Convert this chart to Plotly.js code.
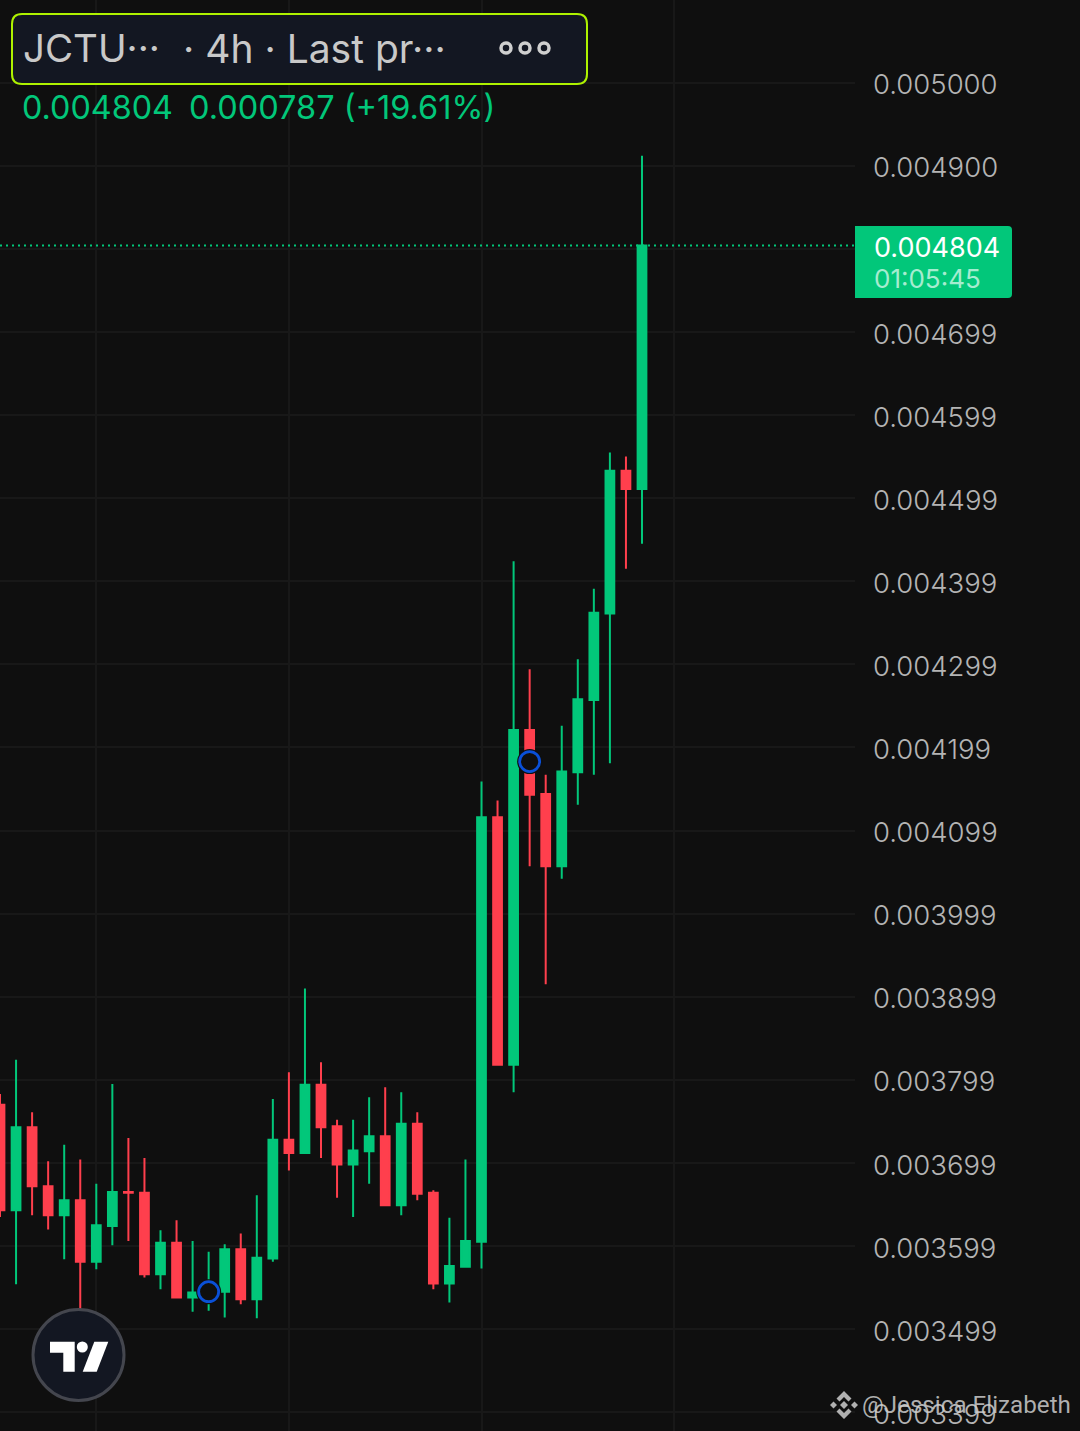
<!DOCTYPE html>
<html>
<head>
<meta charset="utf-8">
<script src="https://cdn.plot.ly/plotly-3.0.1.min.js"></script>
<style>html,body{margin:0;padding:0;background:#0f0f0f}#chart{width:1080px;height:1431px}</style>
</head>
<body>
<div id="chart"></div>
<script>
// ---- data ----
const candleIndex = [0,1,2,3,4,5,6,7,8,9,10,11,12,13,14,15,16,17,18,19,20,21,22,23,24,25,26,27,28,29,30,31,32,33,34,35,36,37,38,39,40];
const openPrices  = [0.003770,0.003643,0.003743,0.003672,0.003637,0.003655,0.003581,0.003624,0.003665,0.003664,0.003566,0.003604,0.003538,0.003542,0.003545,0.003596,0.003536,0.003585,0.003728,0.003712,0.003794,0.003744,0.003698,0.003714,0.003732,0.003649,0.003747,0.003664,0.003555,0.003575,0.003605,0.004116,0.003818,0.004221,0.004144,0.004057,0.004170,0.004257,0.004361,0.004533,0.004511];
const highPrices  = [0.003783,0.003824,0.003761,0.003702,0.003722,0.003704,0.003675,0.003795,0.003730,0.003706,0.003619,0.003631,0.003606,0.003593,0.003602,0.003615,0.003661,0.003777,0.003809,0.003910,0.003821,0.003752,0.003752,0.003779,0.003791,0.003785,0.003761,0.003667,0.003634,0.003704,0.004159,0.004136,0.004424,0.004294,0.004167,0.004226,0.004306,0.004391,0.004555,0.004550,0.004912];
const lowPrices   = [0.003635,0.003554,0.003637,0.003620,0.003584,0.003516,0.003572,0.003601,0.003606,0.003562,0.003548,0.003537,0.003521,0.003522,0.003514,0.003530,0.003513,0.003581,0.003691,0.003712,0.003706,0.003658,0.003635,0.003675,0.003649,0.003637,0.003655,0.003548,0.003532,0.003574,0.003573,0.003818,0.003785,0.004057,0.003915,0.004042,0.004131,0.004167,0.004181,0.004415,0.004445];
const closePrices = [0.003643,0.003743,0.003672,0.003637,0.003655,0.003581,0.003625,0.003665,0.003664,0.003566,0.003604,0.003538,0.003544,0.003549,0.003596,0.003536,0.003586,0.003728,0.003712,0.003794,0.003743,0.003698,0.003715,0.003732,0.003649,0.003747,0.003663,0.003555,0.003576,0.003606,0.004116,0.003818,0.004221,0.004143,0.004057,0.004171,0.004258,0.004362,0.004533,0.004511,0.004804];
const markerIndex  = [13,33];
const markerPrices = [0.003545,0.004183];
const lastPrice = 0.004804;
const priceTicks  = [0.0050,0.0049,0.0048,0.0047,0.0046,0.0045,0.0044,0.0043,0.0042,0.0041,0.0040,0.0039,0.0038,0.0037,0.0036,0.0035,0.0034];
const tickLabels  = ["0.005000","0.004900","","0.004699","0.004599","0.004499","0.004399","0.004299","0.004199","0.004099","0.003999","0.003899","0.003799","0.003699","0.003599","0.003499","0.003399"];
const timeTicks   = [6,18,30,42];

// ---- page geometry and helpers ----
const W = 1080, H = 1431, PLOT_W = 855;
const px = x => x / PLOT_W;
const py = y => 1 - y / H;
const BG = '#0f0f0f', GREEN = '#02c77a', RED = '#ff3f4d', GRID = '#181818';
const FONT = 'Inter, Roboto, sans-serif';
const poly = pts => 'M' + pts.map(p => px(p[0]) + ',' + py(p[1])).join('L') + 'Z';
function roundRect(x0, y0, x1, y1, rl, rr) {
  const seg = [];
  const pt = (x, y) => px(x) + ',' + py(y);
  seg.push('M' + pt(x0 + rl, y0), 'L' + pt(x1 - rr, y0));
  if (rr) seg.push('Q' + pt(x1, y0) + ' ' + pt(x1, y0 + rr));
  seg.push('L' + pt(x1, y1 - rr));
  if (rr) seg.push('Q' + pt(x1, y1) + ' ' + pt(x1 - rr, y1));
  seg.push('L' + pt(x0 + rl, y1));
  if (rl) seg.push('Q' + pt(x0, y1) + ' ' + pt(x0, y1 - rl));
  seg.push('L' + pt(x0, y0 + rl));
  if (rl) seg.push('Q' + pt(x0, y0) + ' ' + pt(x0 + rl, y0));
  return seg.join('') + 'Z';
}
const pathShape = (path, fill, lineColor, lineW) => ({type:'path', xref:'paper', yref:'paper', layer:'above', path,
  fillcolor:fill, line:{color:lineColor || 'rgba(0,0,0,0)', width:lineW || 0}});
const circleShape = (cx, cy, r, fill, lineColor, lineW) => ({type:'circle', xref:'paper', yref:'paper', layer:'above',
  x0:px(cx-r), x1:px(cx+r), y0:py(cy+r), y1:py(cy-r), fillcolor:fill, line:{color:lineColor || 'rgba(0,0,0,0)', width:lineW || 0}});
const label = (text, x, y, size, color, family) => ({xref:'paper', yref:'paper', x:px(x), y:py(y), text, showarrow:false,
  xanchor:'left', yanchor:'middle', xshift:0, borderpad:0, font:{family:family || FONT, size, color, weight:400}});

// Binance watermark glyph
const wx = 844, wy = 1405, wc = 'rgba(205,205,205,0.85)';
const binance = [
  [[wx,wy-4],[wx+4,wy],[wx,wy+4],[wx-4,wy]],
  [[wx-10.5,wy-3.5],[wx-7,wy],[wx-10.5,wy+3.5],[wx-14,wy]],
  [[wx+10.5,wy-3.5],[wx+14,wy],[wx+10.5,wy+3.5],[wx+7,wy]],
  [[wx,wy-14],[wx+7.5,wy-6.5],[wx+4.5,wy-3.5],[wx,wy-8],[wx-4.5,wy-3.5],[wx-7.5,wy-6.5]],
  [[wx,wy+14],[wx-7.5,wy+6.5],[wx-4.5,wy+3.5],[wx,wy+8],[wx+4.5,wy+3.5],[wx+7.5,wy+6.5]]
].map(p => pathShape(poly(p), wc));

const shapes = [
  {type:'line', xref:'paper', yref:'y', x0:0, x1:1, y0:lastPrice, y1:lastPrice, layer:'above',
    line:{color:GREEN, width:2, dash:'2px,4px'}},
  pathShape(roundRect(855,226,1012,298,0,4), GREEN),
  pathShape(roundRect(12,14,587,84,10,10), '#131722', '#aef200', 2),
  circleShape(506,48,5,'rgba(0,0,0,0)','#cfcfcf',3.5),
  circleShape(525,48,5,'rgba(0,0,0,0)','#cfcfcf',3.5),
  circleShape(544,48,5,'rgba(0,0,0,0)','#cfcfcf',3.5),
  circleShape(78.5,1355,45.5,'#131722','#44464e',3),
  pathShape(poly([[50,1341.7],[74.7,1341.7],[74.7,1371.7],[63.3,1371.7],[63.3,1352.7],[50,1352.7]]), '#ffffff'),
  circleShape(82.3,1347,5.5,'#ffffff'),
  pathShape(poly([[94.3,1341.7],[108.3,1341.7],[96.7,1371.7],[82.7,1371.7]]), '#ffffff')
].concat(binance);

const annotations = [
  label('JCTU···', 22, 48, 38.5, '#c9c9c9'),
  label('· 4h · Last pr···', 182, 48, 39, '#c9c9c9'),
  label('0.004804', 21, 107, 32.3, GREEN),
  label('0.000787 (+19.61%)', 188, 107, 32.5, GREEN),
  label('0.004804', 873, 248, 27, '#ffffff'),
  label('01:05:45', 873, 279, 26, '#a5ecd0'),
  label('@Jessica Elizabeth', 861, 1405, 24.2, 'rgba(205,205,205,0.85)', 'Roboto, sans-serif')
];

const traces = [{
  type:'candlestick', x:candleIndex, open:openPrices, high:highPrices, low:lowPrices, close:closePrices,
  increasing:{line:{color:GREEN, width:2}, fillcolor:GREEN},
  decreasing:{line:{color:RED, width:2}, fillcolor:RED},
  hoverinfo:'skip', showlegend:false
},{
  type:'scatter', mode:'markers', x:markerIndex, y:markerPrices, hoverinfo:'skip', showlegend:false,
  marker:{symbol:'circle', size:25, color:BG}
},{
  type:'scatter', mode:'markers', x:markerIndex, y:markerPrices, hoverinfo:'skip', showlegend:false,
  marker:{symbol:'circle', size:20, color:BG, line:{color:'#0a50d8', width:2.8}}
}];

const layout = {
  width:W, height:H, autosize:false,
  margin:{l:0, r:W-PLOT_W, t:0, b:0, pad:0},
  paper_bgcolor:BG, plot_bgcolor:BG, showlegend:false, boxgap:0.22,
  xaxis:{range:[0, PLOT_W/16.05], rangeslider:{visible:false}, tickmode:'array', tickvals:timeTicks, ticktext:timeTicks.map(()=>''),
    showgrid:true, gridcolor:GRID, gridwidth:2, zeroline:false, showline:false, ticks:'', showticklabels:false},
  yaxis:{range:[0.0033774,0.0050994], side:'right', tickmode:'array', tickvals:priceTicks, ticktext:tickLabels,
    showgrid:true, gridcolor:GRID, gridwidth:2, zeroline:false, showline:false, ticks:'', ticklabelstandoff:17, ticklabelshift:2,
    ticklabeloverflow:'allow', tickfont:{family:FONT, size:27.5, color:'#b4b4b4', weight:300}},
  shapes, annotations
};
Plotly.newPlot('chart', traces, layout, {staticPlot:true, displayModeBar:false});
</script>
</body>
</html>
